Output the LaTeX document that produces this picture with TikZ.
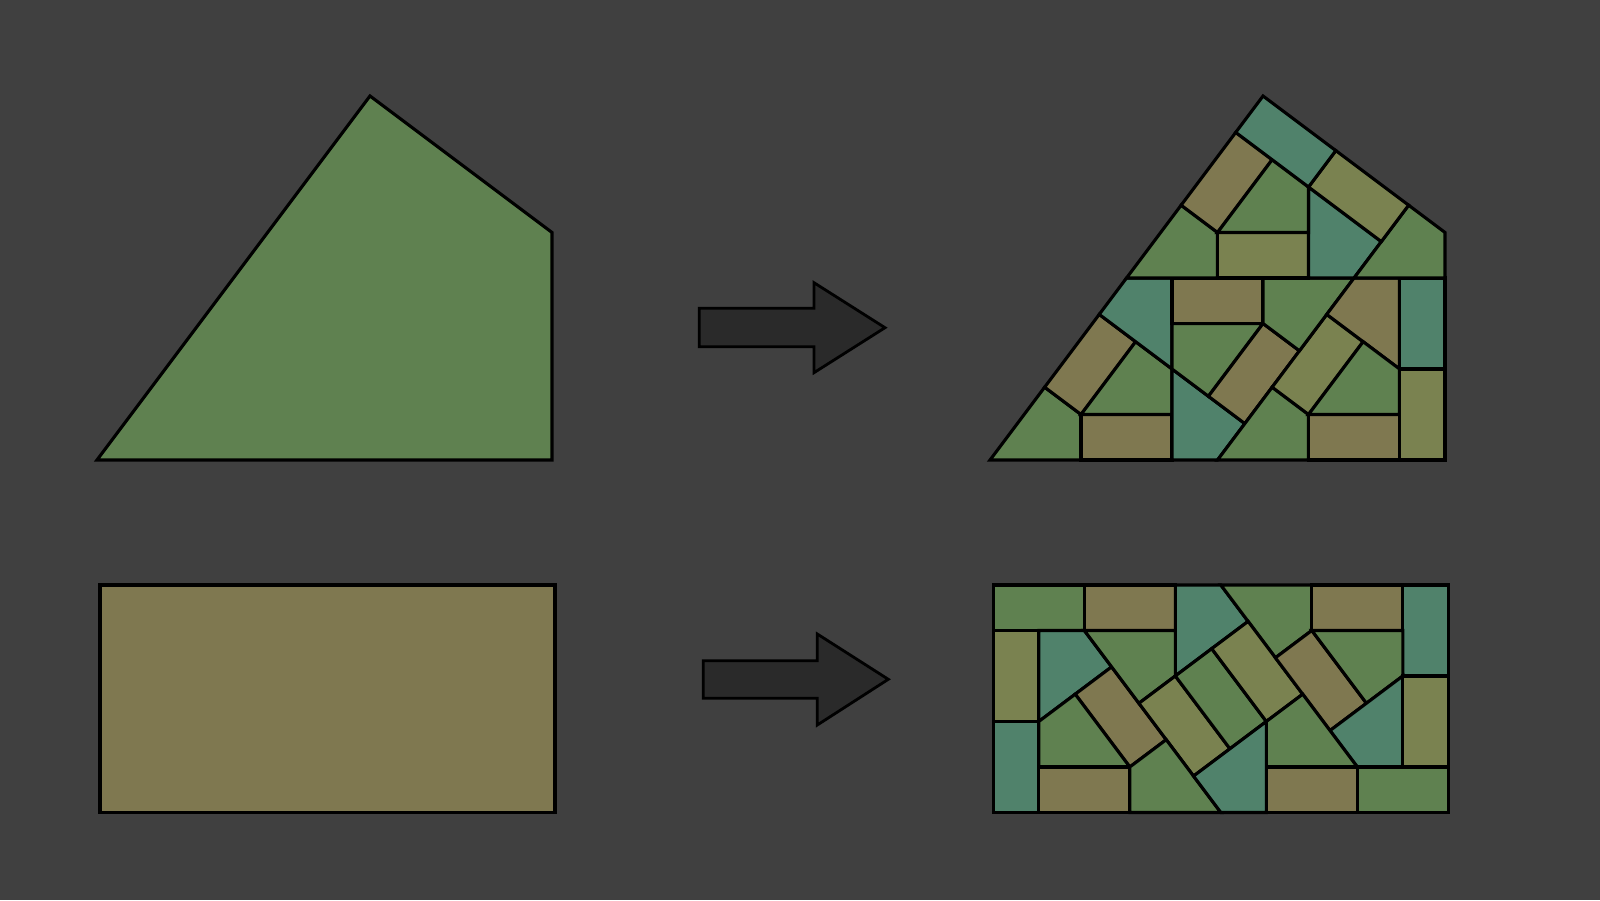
\documentclass[tikz,border=0pt]{standalone}
\usetikzlibrary{calc}
\definecolor{bgc}{RGB}{64,64,64}
\definecolor{cgreen}{RGB}{95,129,80}
\definecolor{cteal}{RGB}{80,130,107}
\definecolor{colive}{RGB}{127,120,80}
\definecolor{clight}{RGB}{122,130,80}
\definecolor{carrow}{RGB}{42,42,42}
\tikzset{
  tile/.style={draw=black, line width=3.1pt, line join=miter},
  gr/.style={tile, fill=cgreen},
  te/.style={tile, fill=cteal},
  ol/.style={tile, fill=colive},
  lo/.style={tile, fill=clight},
  bigarrow/.style={draw=black, line width=2.8pt, fill=carrow, line join=miter},
}
\begin{document}
\begin{tikzpicture}[x=1pt,y=1pt]
\useasboundingbox (0,0) rectangle (1600,900);
\fill[bgc] (0,0) rectangle (1600,900);

% ---------- left: original shapes ----------
\begin{scope}[shift={(97pt,440pt)}, x=45.5pt, y=45.5pt]
  \draw[gr] (0,0) -- (6,8) -- (10,5) -- (10,0) -- cycle;
\end{scope}
\begin{scope}[shift={(100pt,87.5pt)}, x=45.5pt, y=45.5pt]
  \draw[ol] (0,0) rectangle (10,5);
\end{scope}

% ---------- arrows ----------
\draw[bigarrow] (699.3,553.3) -- (814,553.3) -- (814,527.3) -- (885,572.3)
  -- (814,617.3) -- (814,591.7) -- (699.3,591.7) -- cycle;
\draw[bigarrow] (703.3,201.7) -- (817.3,201.7) -- (817.3,175) -- (888.3,220.7)
  -- (817.3,266) -- (817.3,239.3) -- (703.3,239.3) -- cycle;

% ---------- right top: tiled pentagon ----------
\begin{scope}[shift={(990pt,440pt)}, x=45.5pt, y=45.5pt]
  \draw[gr] (0,0) -- (2,0) -- (2,1) -- (1.2,1.6) -- cycle;
  \draw[ol] (1.2,1.6) -- (2,1) -- (3.2,2.6) -- (2.4,3.2) -- cycle;
  \draw[ol] (2,0) rectangle (4,1);
  \draw[gr] (2,1) -- (4,1) -- (4,2) -- (3.2,2.6) -- cycle;
  \draw[te] (2.4,3.2) -- (3,4) -- (4,4) -- (4,2) -- cycle;
  \draw[te] (4,0) -- (5,0) -- (5.6,0.8) -- (4,2) -- cycle;
  \draw[gr] (4,2) -- (4.8,1.4) -- (6,3) -- (4,3) -- cycle;
  \draw[ol] (4.8,1.4) -- (5.6,0.8) -- (6.8,2.4) -- (6,3) -- cycle;
  \draw[ol] (4,3) rectangle (6,4);
  \draw[gr] (5,0) -- (7,0) -- (7,1) -- (6.2,1.6) -- cycle;
  \draw[lo] (6.2,1.6) -- (7,1) -- (8.2,2.6) -- (7.4,3.2) -- cycle;
  \draw[gr] (6,3) -- (6.8,2.4) -- (8,4) -- (6,4) -- cycle;
  \draw[ol] (7.4,3.2) -- (9,2) -- (9,4) -- (8,4) -- cycle;
  \draw[ol] (7,0) rectangle (9,1);
  \draw[gr] (7,1) -- (9,1) -- (9,2) -- (8.2,2.6) -- cycle;
  \draw[lo] (9,0) rectangle (10,2);
  \draw[te] (9,2) rectangle (10,4);
  \draw[gr] (3,4) -- (5,4) -- (5,5) -- (4.2,5.6) -- cycle;
  \draw[lo] (5,4) rectangle (7,5);
  \draw[te] (7,4) -- (8,4) -- (8.6,4.8) -- (7,6) -- cycle;
  \draw[gr] (8,4) -- (10,4) -- (10,5) -- (9.2,5.6) -- cycle;
  \draw[ol] (4.2,5.6) -- (5,5) -- (6.2,6.6) -- (5.4,7.2) -- cycle;
  \draw[gr] (5,5) -- (7,5) -- (7,6) -- (6.2,6.6) -- cycle;
  \draw[lo] (7,6) -- (8.6,4.8) -- (9.2,5.6) -- (7.6,6.8) -- cycle;
  \draw[te] (5.4,7.2) -- (7,6) -- (7.6,6.8) -- (6,8) -- cycle;
\end{scope}

% ---------- right bottom: tiled rectangle ----------
\begin{scope}[shift={(993.3pt,87.5pt)}, x=45.5pt, y=45.5pt]
  \draw[gr] (0,4) rectangle (2,5);
  \draw[ol] (2,4) rectangle (4,5);
  \draw[te] (4,5) -- (5,5) -- (5.6,4.2) -- (4,3) -- cycle;
  \draw[gr] (5,5) -- (7,5) -- (7,4) -- (6.2,3.4) -- cycle;
  \draw[ol] (7,4) rectangle (9,5);
  \draw[te] (9,3) rectangle (10,5);
  \draw[lo] (0,2) rectangle (1,4);
  \draw[te] (1,2) -- (1,4) -- (2,4) -- (2.6,3.2) -- cycle;
  \draw[ol] (2.6,3.2) -- (1.8,2.6) -- (3,1) -- (3.8,1.6) -- cycle;
  \draw[gr] (1,1) -- (3,1) -- (1.8,2.6) -- (1,2) -- cycle;
  \draw[gr] (2,4) -- (4,4) -- (4,3) -- (3.2,2.4) -- cycle;
  \draw[lo] (3.2,2.4) -- (4,3) -- (5.2,1.4) -- (4.4,0.8) -- cycle;
  \draw[gr] (4,3) -- (4.8,3.6) -- (6,2) -- (5.2,1.4) -- cycle;
  \draw[lo] (4.8,3.6) -- (5.6,4.2) -- (6.8,2.6) -- (6,2) -- cycle;
  \draw[ol] (6.2,3.4) -- (7,4) -- (8.2,2.4) -- (7.4,1.8) -- cycle;
  \draw[gr] (7,4) -- (9,4) -- (9,3) -- (8.2,2.4) -- cycle;
  \draw[te] (7.4,1.8) -- (9,3) -- (9,1) -- (8,1) -- cycle;
  \draw[gr] (6,1) -- (6,2) -- (6.8,2.6) -- (8,1) -- cycle;
  \draw[lo] (9,1) rectangle (10,3);
  \draw[te] (0,0) rectangle (1,2);
  \draw[ol] (1,0) rectangle (3,1);
  \draw[gr] (3,0) -- (5,0) -- (3.8,1.6) -- (3,1) -- cycle;
  \draw[te] (4.4,0.8) -- (5,0) -- (6,0) -- (6,2) -- cycle;
  \draw[ol] (6,0) rectangle (8,1);
  \draw[gr] (8,0) rectangle (10,1);
\end{scope}
\end{tikzpicture}
\end{document}
